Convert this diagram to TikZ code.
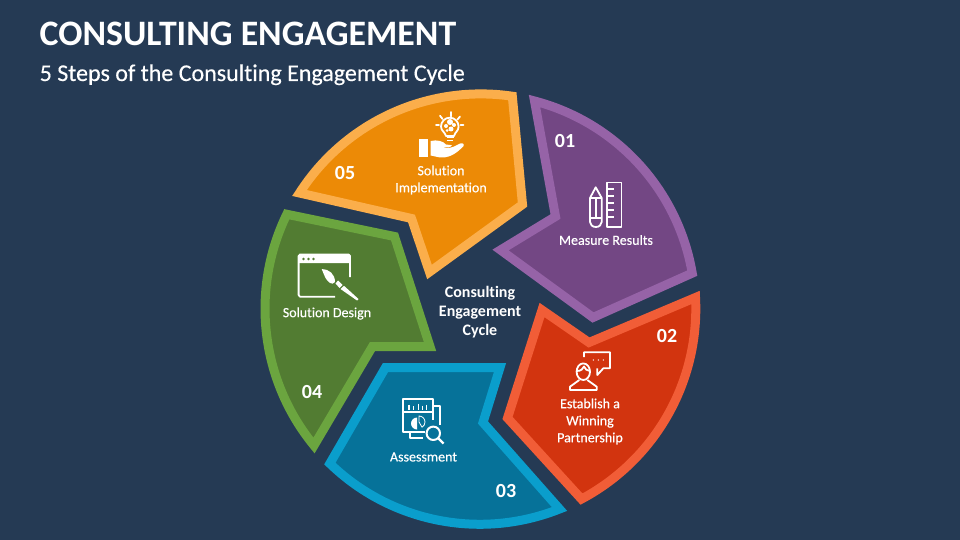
\documentclass[tikz,border=0pt]{standalone}
\usepackage{fontspec}
\setmainfont[Ligatures=NoCommon]{Carlito}
\newfontfamily\semifont[Ligatures=NoCommon, FakeBold=0.35]{Carlito}
\usetikzlibrary{positioning}
\definecolor{bgnavy}{HTML}{253A54}
\definecolor{purpleline}{HTML}{9663A7}
\definecolor{purplefill}{HTML}{734784}
\definecolor{redline}{HTML}{F15D37}
\definecolor{redfill}{HTML}{D2340F}
\definecolor{blueline}{HTML}{0A9ECC}
\definecolor{bluefill}{HTML}{067299}
\definecolor{greenline}{HTML}{6BA53F}
\definecolor{greenfill}{HTML}{527C32}
\definecolor{orangeline}{HTML}{FBAE4B}
\definecolor{orangefill}{HTML}{EC8A06}
\tikzset{
  part/.style={line width=9pt, miter limit=10},
  steplabel/.style={text=white, font=\semifont\fontsize{14}{17}\selectfont, align=center, inner sep=0pt},
  stepnum/.style={text=white, font=\bfseries\fontsize{20}{22}\selectfont, inner sep=0pt},
  icon/.style={draw=white, line width=1.8pt, line join=round},
}

\begin{document}
\begin{tikzpicture}[x=1pt, y=1pt, yscale=-1]
	\useasboundingbox (0,0) rectangle (960,540);
	\fill[bgnavy] (0,0) rectangle (960,540);

	% title
	\node[anchor=base west, inner sep=0pt, text=white, font=\bfseries\fontsize{35.8}{40}\selectfont] (title) at (39.5,46) {CONSULTING ENGAGEMENT};
	\node[anchor=base west, inner sep=0pt, text=white, font=\semifont\fontsize{24}{26}\selectfont] (subtitle) at (39.5,81) {5 Steps of the Consulting Engagement Cycle};

	% parts
	\draw[part, draw=purpleline, fill=purplefill] (534.5,101) arc[start angle=-75.3, end angle=-9.7, radius=215.5pt]
		-- (593,317.5) -- (500.5,250) -- (555.5,216.5) -- cycle;
	\draw[part, draw=redline, fill=redfill] (695.5,297.5) arc[start angle=-3, end angle=62, radius=215.5pt]
		-- (507.5,418) -- (542,310) -- (589,342.5) -- cycle;
	\draw[part, draw=blueline, fill=bluefill] (559.5,509) arc[start angle=68.3, end angle=134.1, radius=215.5pt]
		-- (385.5,367.5) -- (500,367.5) -- (483,422.5) -- cycle;
	\draw[part, draw=greenline, fill=greenfill] (314,445.5) arc[start angle=140.6, end angle=206, radius=215.5pt]
		-- (394.5,236.5) -- (430,346.5) -- (372.5,346.5) -- cycle;
	\draw[part, draw=orangeline, fill=orangefill] (299.5,193) arc[start angle=212.7, end angle=278.4, radius=215.5pt]
		-- (522.5,204.5) -- (429.5,272) -- (411.5,218.5) -- cycle;

	% labels
	\node[steplabel] (measure) at (606,240) {Measure Results};
	\node[steplabel] (winning) at (590,421.5) {Establish a\\Winning\\Partnership};
	\node[steplabel] (assess) at (423.5,457) {Assessment};
	\node[steplabel] (design) at (327,313.5) {Solution Design};
	\node[steplabel] (implement) at (441,180) {Solution\\Implementation};
	\node[text=white, font=\bfseries\fontsize{16}{19}\selectfont, align=center, inner sep=0pt] (cycle) at (480,312) {Consulting\\Engagement\\Cycle};

	% numbers
	\node[stepnum] (n1) at (565,141) {01};
	\node[stepnum] (n2) at (667,336) {02};
	\node[stepnum] (n3) at (506,491) {03};
	\node[stepnum] (n4) at (312,392) {04};
	\node[stepnum] (n5) at (345,173) {05};

	% pencil and ruler
	\draw[icon] (590,198) -- (595.7,187.3) -- (601.7,198) -- (601.7,222) arc[start angle=0, end angle=180, x radius=5.85pt, y radius=5pt] -- cycle;
	\draw[icon] (590,198) -- (601.7,198) (590,218) -- (601.7,218) (595.7,198) -- (595.7,218);
	\draw[icon] (607,182.5) rectangle (621.5,227);
	\foreach \y in {189,196,203,210,217} \draw[icon] (607,\y) -- (614,\y);

	% person and speech bubble
	\draw[icon] (584,357) -- (584,352.3) -- (610,352.3) -- (610,368.3) -- (603.3,368.3) -- (597.3,375) -- (597.3,368.3);
	\foreach \x in {593.3,598.3,603.3} \fill[white] (\x,360) circle[radius=0.7pt];
	\draw[icon] (583.3,371.7) ellipse[x radius=6.7pt, y radius=8.3pt];
	\draw[icon] (576.8,371) .. controls (581,371) and (583,369) .. (584,366.5) .. controls (585,369) and (587,371) .. (590,371);
	\draw[icon] (579.3,380) -- (570,386.7) -- (570,390) -- (596.7,390) -- (596.7,386.7) -- (587.3,380);

	% report and magnifier
	\draw[icon] (425,431.7) -- (403.3,431.7) -- (403.3,399.3) -- (432.7,399.3) -- (432.7,420);
	\draw[icon] (403.3,411.7) -- (432.7,411.7);
	\foreach \x/\t in {409/404.5,413.3/406,418.3/403.5,422.7/405.5,426.7/404.5} \draw[icon, line width=1.4pt] (\x,\t) -- (\x,410);
	\draw[icon] (433.3,406) -- (440,406) -- (440,425);
	\draw[icon] (410,431.7) -- (410,438.3) -- (423.3,438.3);
	\fill[white] (417,423.5) -- (417,417.5) arc[start angle=270, end angle=90, radius=6pt] -- cycle;
	\draw[icon, line width=0.8pt] (419,422) -- (419,416) arc[start angle=-90, end angle=60, radius=6pt] -- cycle;
	\draw[icon, line width=2pt] (433.3,433.3) circle[radius=6.7pt];
	\draw[icon, line width=2.4pt] (438.2,438.2) -- (443.5,443.5);

	% window and brush
	\draw[icon] (335,296.7) -- (300,296.7) -- (298.6,295) -- (298.6,256) -- (300,254.5) -- (348.5,254.5) -- (350,256) -- (350,277);
	\fill[white] (298.6,256) -- (300,254) -- (348.5,254) -- (350.6,256) -- (350.6,263) -- (298,263) -- cycle;
	\foreach \x in {303.5,308.5,313.5} \fill[greenfill] (\x,259) circle[radius=1.4pt];
	\fill[white] (321.7,269) .. controls (329,269) and (335,274) .. (335,282) .. controls (332,286) and (328,282) .. (325.5,278) .. controls (324,275) and (323,272) .. cycle;
	\fill[white] (335.5,283.5) -- (338,280.5) -- (342.5,285) -- (339.5,288) -- cycle;
	\fill[white] (340.5,289) -- (344,285.8) -- (358.5,299) -- (357,300.5) -- cycle;

	% bulb on hand
	\draw[icon] (446,136) .. controls (445,132) and (441,131) .. (441,126.5) arc[start angle=180, end angle=360, radius=8.8pt] .. controls (458.6,131) and (455,132) .. (454,136) -- cycle;
	\fill[white] (450,122) circle[radius=3pt] (446,126) circle[radius=2pt] (454,125) circle[radius=2pt] (451,129) circle[radius=2.5pt] (447,130.5) circle[radius=1.5pt];
	\draw[icon, line width=1pt] (446.5,138) -- (453.5,138) (447,140.2) -- (453,140.2);
	\draw[icon, line cap=round] (451,112) -- (451,116.5) (440,115.7) -- (442.5,119) (460,116.5) -- (457.5,119.5) (436,125) -- (439,125) (463.5,125) -- (460.5,125);
	\fill[white] (419.3,139.5) rectangle (428.3,157);
	\fill[white] (430.5,141) .. controls (437,139.5) and (443,141) .. (446,144.5) -- (452,145.2) .. controls (451,147.5) and (447,147.5) .. (443,147.5) .. controls (447,149) and (452,148) .. (458,144.5) .. controls (461,142.5) and (465,143) .. (463.5,146) .. controls (458,152) and (451,157.5) .. (442,157.5) .. controls (438,157.5) and (434,156) .. (430.5,155.5) -- cycle;

\end{tikzpicture}
\end{document}
